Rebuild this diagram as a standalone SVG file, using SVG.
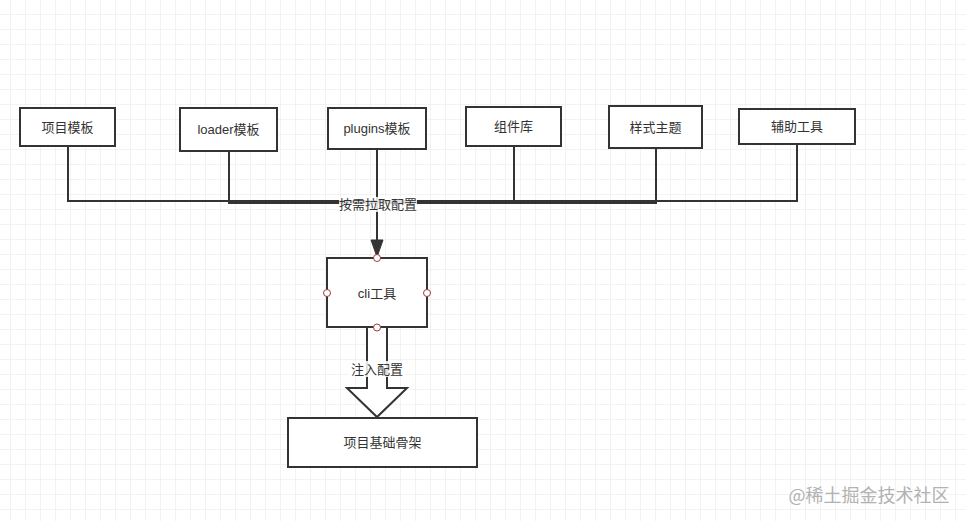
<svg xmlns="http://www.w3.org/2000/svg" width="966" height="521" viewBox="0 0 966 521">
<defs>
<pattern id="grid" x="10" y="0" width="15" height="15" patternUnits="userSpaceOnUse">
<path d="M0 0V15M0 15H15" fill="none" stroke="#e6e6e6" stroke-width="1"/>
</pattern>
<marker id="arr" markerWidth="8" markerHeight="10" refX="8" refY="5" orient="auto" markerUnits="userSpaceOnUse" viewBox="0 0 8 10">
<path d="M0 0L8 5L0 10Z" fill="#333"/>
</marker>
<style>
.box{fill:#fff;stroke:#333;stroke-width:2}
.t{font-family:"Liberation Sans","Noto Sans CJK SC",sans-serif;font-size:13px;fill:#333;text-anchor:middle;dominant-baseline:central}
.ln{fill:none;stroke:#333;stroke-width:2}
.pt{fill:#fff;stroke:#9b3b3b;stroke-width:1}
</style>
</defs>
<rect width="966" height="521" fill="#fff"/>
<rect width="966" height="521" fill="url(#grid)"/>
<g id="connectors">
<path class="ln" d="M68 146V201H797V144"/>
<path class="ln" d="M229 151V203H656V148"/>
<path class="ln" d="M514 146V201"/>
<path class="ln" d="M377 149V240" />
<path d="M371 240H383L377 257Z" fill="#333" stroke="#333" stroke-width="1"/>
<rect x="339" y="197" width="78" height="15" fill="#fff" opacity="0.85"/>
<text class="t" x="378" y="204">按需拉取配置</text>
<path d="M367 327V388H347L377 417L407 388H387V327" fill="#fff" stroke="#333" stroke-width="2"/>
<rect x="349" y="361" width="56" height="16" fill="#fff" opacity="0.85"/>
<text class="t" x="377" y="369">注入配置</text>
</g>
<g id="n1"><rect class="box" x="20" y="108" width="95" height="38"/><text class="t" x="67.5" y="127">项目模板</text></g>
<g id="n2"><rect class="box" x="180" y="108" width="97" height="43"/><text class="t" x="228.5" y="129.5">loader模板</text></g>
<g id="n3"><rect class="box" x="328" y="108" width="98" height="41"/><text class="t" x="377" y="128.5">plugins模板</text></g>
<g id="n4"><rect class="box" x="466" y="107" width="95" height="39"/><text class="t" x="513.5" y="126.5">组件库</text></g>
<g id="n5"><rect class="box" x="609" y="106" width="93" height="42"/><text class="t" x="655.5" y="127">样式主题</text></g>
<g id="n6"><rect class="box" x="739" y="109" width="116" height="35"/><text class="t" x="797" y="126.5">辅助工具</text></g>
<g id="cli"><rect class="box" x="327" y="258" width="100" height="69"/><text class="t" x="377" y="293">cli工具</text>
<circle class="pt" cx="377" cy="258" r="3.5"/><circle class="pt" cx="377" cy="327.5" r="3.5"/><circle class="pt" cx="327" cy="293" r="3.5"/><circle class="pt" cx="427" cy="293" r="3.5"/></g>
<g id="base"><rect class="box" x="288" y="418" width="189" height="49"/><text class="t" x="382.5" y="442.5">项目基础骨架</text></g>
<text x="869" y="494" font-family="'Noto Sans CJK SC',sans-serif" font-size="18" fill="#aaa" text-anchor="middle" dominant-baseline="central" opacity="0.9">@稀土掘金技术社区</text>
</svg>
